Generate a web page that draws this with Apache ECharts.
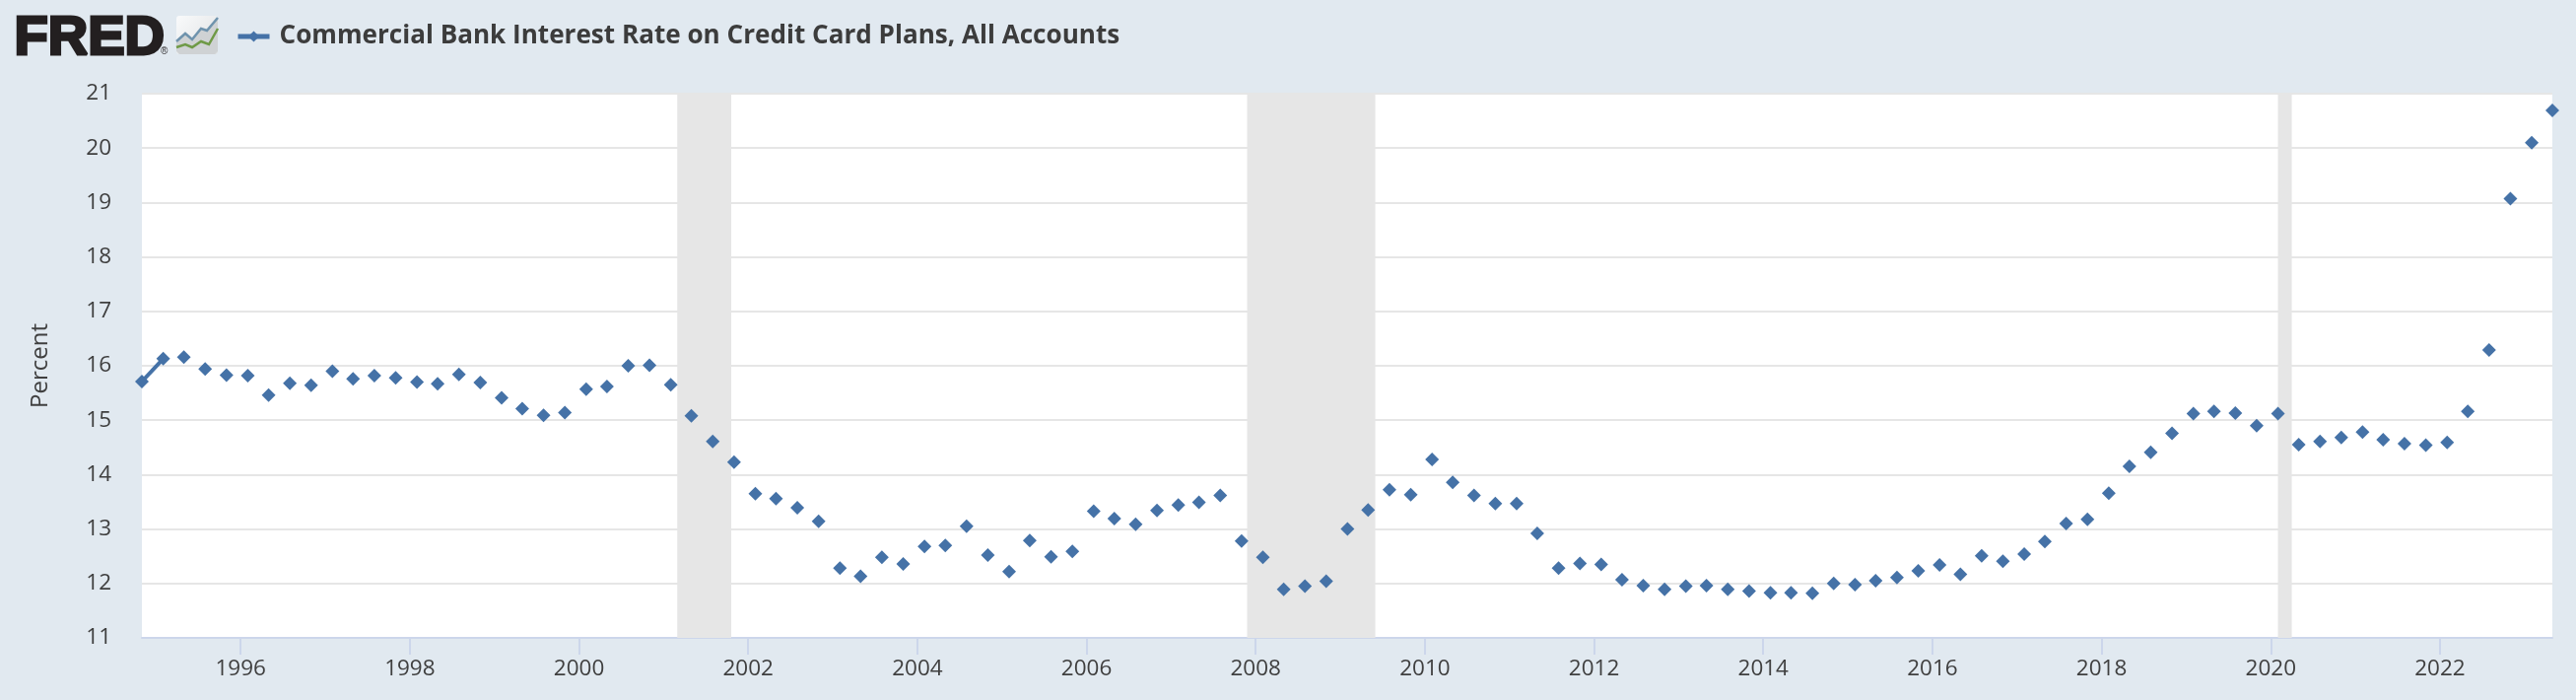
<!DOCTYPE html>
<html>
<head>
<meta charset="utf-8">
<style>
  html, body { margin: 0; padding: 0; background: #e1e9f0; }
  #chart { width: 2614px; height: 710px; }
</style>
<script src="https://cdn.jsdelivr.net/npm/echarts@6/dist/echarts.min.js"></script>
</head>
<body>
<div id="chart"></div>
<script>
const seriesName = 'Commercial Bank Interest Rate on Credit Card Plans, All Accounts';

const dates = [
  '1994-11-01',
  '1995-02-01', '1995-05-01', '1995-08-01', '1995-11-01',
  '1996-02-01', '1996-05-01', '1996-08-01', '1996-11-01',
  '1997-02-01', '1997-05-01', '1997-08-01', '1997-11-01',
  '1998-02-01', '1998-05-01', '1998-08-01', '1998-11-01',
  '1999-02-01', '1999-05-01', '1999-08-01', '1999-11-01',
  '2000-02-01', '2000-05-01', '2000-08-01', '2000-11-01',
  '2001-02-01', '2001-05-01', '2001-08-01', '2001-11-01',
  '2002-02-01', '2002-05-01', '2002-08-01', '2002-11-01',
  '2003-02-01', '2003-05-01', '2003-08-01', '2003-11-01',
  '2004-02-01', '2004-05-01', '2004-08-01', '2004-11-01',
  '2005-02-01', '2005-05-01', '2005-08-01', '2005-11-01',
  '2006-02-01', '2006-05-01', '2006-08-01', '2006-11-01',
  '2007-02-01', '2007-05-01', '2007-08-01', '2007-11-01',
  '2008-02-01', '2008-05-01', '2008-08-01', '2008-11-01',
  '2009-02-01', '2009-05-01', '2009-08-01', '2009-11-01',
  '2010-02-01', '2010-05-01', '2010-08-01', '2010-11-01',
  '2011-02-01', '2011-05-01', '2011-08-01', '2011-11-01',
  '2012-02-01', '2012-05-01', '2012-08-01', '2012-11-01',
  '2013-02-01', '2013-05-01', '2013-08-01', '2013-11-01',
  '2014-02-01', '2014-05-01', '2014-08-01', '2014-11-01',
  '2015-02-01', '2015-05-01', '2015-08-01', '2015-11-01',
  '2016-02-01', '2016-05-01', '2016-08-01', '2016-11-01',
  '2017-02-01', '2017-05-01', '2017-08-01', '2017-11-01',
  '2018-02-01', '2018-05-01', '2018-08-01', '2018-11-01',
  '2019-02-01', '2019-05-01', '2019-08-01', '2019-11-01',
  '2020-02-01', '2020-05-01', '2020-08-01', '2020-11-01',
  '2021-02-01', '2021-05-01', '2021-08-01', '2021-11-01',
  '2022-02-01', '2022-05-01', '2022-08-01', '2022-11-01',
  '2023-02-01', '2023-05-01'
];

const rates = [
  15.71,
  16.13, 16.16, 15.94, 15.83,
  15.82, 15.46, 15.68, 15.64,
  15.90, 15.76, 15.82, 15.78,
  15.70, 15.67, 15.84, 15.69,
  15.41, 15.21, 15.09, 15.14,
  15.57, 15.62, 16.00, 16.01,
  15.65, 15.08, 14.61, 14.23,
  13.65, 13.56, 13.39, 13.14,
  12.28, 12.13, 12.48, 12.36,
  12.68, 12.70, 13.05, 12.52,
  12.22, 12.79, 12.49, 12.59,
  13.33, 13.19, 13.09, 13.34,
  13.44, 13.49, 13.62, 12.78,
  12.48, 11.89, 11.95, 12.04,
  13.00, 13.35, 13.72, 13.63,
  14.28, 13.86, 13.62, 13.47,
  13.47, 12.92, 12.28, 12.37,
  12.35, 12.07, 11.96, 11.89,
  11.95, 11.96, 11.89, 11.86,
  11.83, 11.83, 11.82, 12.00,
  11.98, 12.05, 12.11, 12.23,
  12.34, 12.17, 12.51, 12.41,
  12.54, 12.77, 13.10, 13.18,
  13.66, 14.15, 14.41, 14.76,
  15.12, 15.16, 15.13, 14.90,
  15.12, 14.55, 14.61, 14.68,
  14.78, 14.64, 14.57, 14.54,
  14.59, 15.16, 16.29, 19.07,
  20.10, 20.69
];

const recessions = [
  ['2001-03-01', '2001-10-20'],
  ['2007-11-25', '2009-06-01'],
  ['2020-02-01', '2020-04-01']
];

const yearTicks = [1996, 1998, 2000, 2002, 2004, 2006, 2008, 2010, 2012, 2014, 2016, 2018, 2020, 2022];

// x axis runs on fractional years so the even-year ticks can be placed exactly
function toYear(d) {
  const y = parseInt(d.slice(0, 4));
  const start = Date.UTC(y, 0, 1);
  return y + (Date.parse(d) - start) / (Date.UTC(y + 1, 0, 1) - start);
}

const points = dates.map((d, i) => [toYear(d), rates[i]]);

const chart = echarts.init(document.getElementById('chart'), null, {renderer: 'canvas'});

chart.setOption({
  animation: false,
  backgroundColor: '#e1e9f0',
  textStyle: {fontFamily: '"Open Sans"'},
  grid: {
    show: true,
    left: 144,
    right: 24,
    top: 95,
    bottom: 63,
    backgroundColor: '#ffffff',
    borderWidth: 0
  },
  legend: {
    data: [seriesName],
    left: 234,
    top: 19,
    itemWidth: 32,
    itemHeight: 14,
    itemGap: 0,
    lineStyle: {width: 5},
    textStyle: {
      fontFamily: '"Open Sans"',
      fontWeight: 700,
      fontSize: 26.1,
      color: '#3c3c3c',
      padding: [0, 0, 0, 5]
    }
  },
  xAxis: {
    type: 'value',
    min: toYear(dates[0]),
    max: toYear(dates[dates.length - 1]),
    splitLine: {show: false},
    axisLine: {lineStyle: {color: '#ccd6eb', width: 2}},
    axisTick: {
      show: true,
      customValues: yearTicks,
      length: 17,
      lineStyle: {color: '#ccd6eb', width: 2}
    },
    axisLabel: {
      customValues: yearTicks,
      formatter: (v) => String(v),
      color: '#3f3f3f',
      fontSize: 22.5,
      margin: 20
    }
  },
  yAxis: {
    type: 'value',
    min: 11,
    max: 21,
    interval: 1,
    name: 'Percent',
    nameLocation: 'middle',
    nameGap: 91,
    nameTextStyle: {color: '#3f3f3f', fontSize: 24},
    axisLine: {show: false},
    axisTick: {show: false},
    splitLine: {lineStyle: {color: '#e6e6e6', width: 2}},
    axisLabel: {color: '#3f3f3f', fontSize: 22.5, margin: 31}
  },
  series: [
    {
      // only the first two observations are joined in the original
      name: seriesName,
      type: 'line',
      data: points.slice(0, 2),
      clip: false,
      symbol: 'diamond',
      symbolSize: 14,
      z: 5,
      lineStyle: {color: '#4572a7', width: 4},
      itemStyle: {color: '#4572a7'},
      markArea: {
        silent: true,
        itemStyle: {color: '#e6e6e6', opacity: 1},
        data: recessions.map((r) => [{xAxis: toYear(r[0])}, {xAxis: toYear(r[1])}])
      }
    },
    {
      name: 'points',
      type: 'scatter',
      data: points.slice(2),
      clip: false,
      symbol: 'diamond',
      symbolSize: 14,
      z: 5,
      itemStyle: {color: '#4572a7', opacity: 1}
    }
  ],
  graphic: [
    {
      type: 'text',
      left: 13,
      top: 10,
      style: {
        text: 'FRED',
        font: '900 56px "Liberation Sans"',
        fill: '#231f20',
        stroke: '#231f20',
        lineWidth: 3
      }
    },
    {type: 'text', left: 163, top: 47, style: {text: '®', font: '10px "Liberation Sans"', fill: '#231f20'}},
    {
      type: 'rect',
      shape: {x: 179, y: 16, width: 42, height: 39, r: 3},
      style: {
        fill: new echarts.graphic.LinearGradient(0, 0, 1, 1, [
          {offset: 0, color: '#f9fafb'},
          {offset: 1, color: '#dfe1e3'}
        ])
      }
    },
    {
      type: 'polygon',
      shape: {points: [[179, 42], [188, 34], [195, 40], [204, 29], [210, 31], [221, 18], [221, 52], [218, 55], [182, 55], [179, 52]]},
      style: {fill: '#cfd2d4'}
    },
    {
      type: 'polyline',
      shape: {points: [[179, 42], [188, 34], [195, 40], [204, 29], [210, 31], [221, 18]]},
      style: {stroke: '#6f93ad', lineWidth: 2.5, fill: null}
    },
    {
      type: 'polyline',
      shape: {points: [[179, 48], [188, 45], [195, 48], [204, 42], [212, 45], [221, 29]]},
      style: {stroke: '#6f9a47', lineWidth: 2.5, fill: null}
    }
  ]
});
</script>
</body>
</html>
